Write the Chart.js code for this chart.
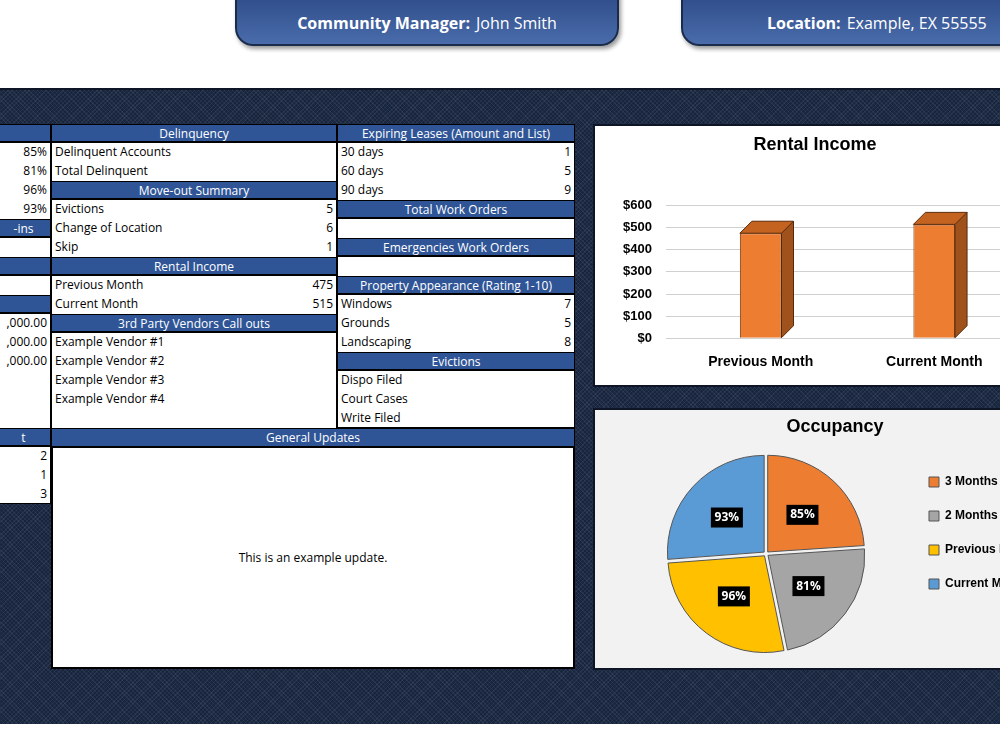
<!DOCTYPE html>
<html>
<head>
<meta charset="utf-8">
<script src="https://cdn.jsdelivr.net/npm/chart.js@4"></script>
<style>
  body { margin: 0; width: 1000px; height: 750px; overflow: hidden; background: #fff; font-family: "Open Sans", "Liberation Sans", sans-serif; position: relative; }
  .hdr { position: absolute; top: -10px; height: 56px; border: 2px solid #1b2b4a; border-radius: 0 0 18px 18px;
         background: linear-gradient(#2c4a86, #4a6cab); color: #fff; font-size: 16px; box-shadow: 2px 3px 4px rgba(0,0,0,0.4);
         display: flex; align-items: center; justify-content: center; padding-top: 10px; box-sizing: border-box; }
  .hdr b { margin-right: 6px; }
  #panel { position: absolute; left: 0; top: 88px; width: 1000px; height: 634px; background-color: #17243d;
           background-image: repeating-linear-gradient(45deg, rgba(255,255,255,0.06) 0 1px, transparent 1px 3px),
                             repeating-linear-gradient(-45deg, rgba(255,255,255,0.06) 0 1px, transparent 1px 3px);
           border-top: 2px solid #0d1526; }
  .col { position: absolute; top: 124px; font-size: 12px; color: #000; }
  .row { height: 19px; line-height: 18px; box-sizing: border-box; background: #fff; border-left: 1px solid #000; border-right: 1px solid #000;
         display: flex; justify-content: space-between; padding: 0 3px; white-space: nowrap; overflow: hidden; }
  .row.h { background: #2f5597; color: #fff; justify-content: center; border: 1px solid #000; border-bottom: 2px solid #000; }
  .row.last { border-bottom: 1px solid #000; }
  .box { position: absolute; background: #fff; border: 2px solid #000; box-sizing: border-box; }
</style>
</head>
<body>
<div class="hdr" style="left:235px; width:384px;"><b>Community Manager:</b> John Smith</div>
<div class="hdr" style="left:681px; width:360px; justify-content:flex-start; padding-left:84px;"><b>Location:</b> Example, EX 55555</div>
<div id="panel"></div>

<div class="col" id="c0" style="left:-4px; width:55px;"></div>
<div class="col" id="c1" style="left:51px; width:286px;"></div>
<div class="col" id="c2" style="left:337px; width:238px;"></div>
<div class="box" style="left:51px; top:446px; width:524px; height:223px; display:flex; align-items:center; justify-content:center; font-size:12px;">This is an example update.</div>

<div class="box" style="left:593px; top:124px; width:504px; height:263px; border-color:#0d1526;">
  <canvas id="barChart" width="500" height="259"></canvas>
</div>
<div class="box" style="left:593px; top:408px; width:504px; height:262px; background:#f2f2f2; border-color:#0d1526;">
  <canvas id="pieChart" width="500" height="258"></canvas>
</div>

<script>
// ---- table contents ----
const col0Rows = [['h',''],['','85%'],['','81%'],['','96%'],['','93%'],['h','-ins'],['',''],['h',''],['',''],['h',''],
  ['',',000.00'],['',',000.00'],['',',000.00'],['',''],['',''],['',''],['h','t'],['','2'],['','1'],['','3']];
const col1Rows = [['h','Delinquency'],['Delinquent Accounts',''],['Total Delinquent',''],['h','Move-out Summary'],
  ['Evictions','5'],['Change of Location','6'],['Skip','1'],['h','Rental Income'],['Previous Month','475'],['Current Month','515'],
  ['h','3rd Party Vendors Call outs'],['Example Vendor #1',''],['Example Vendor #2',''],['Example Vendor #3',''],['Example Vendor #4',''],['',''],
  ['h','General Updates']];
const col2Rows = [['h','Expiring Leases (Amount and List)'],['30 days','1'],['60 days','5'],['90 days','9'],['h','Total Work Orders'],['',''],
  ['h','Emergencies Work Orders'],['',''],['h','Property Appearance (Rating 1-10)'],['Windows','7'],['Grounds','5'],['Landscaping','8'],
  ['h','Evictions'],['Dispo Filed',''],['Court Cases',''],['Write Filed','']];

function buildCol(id, rows) {
  const el = document.getElementById(id);
  rows.forEach((r, i) => {
    const d = document.createElement('div');
    d.className = 'row' + (r[0] === 'h' ? ' h' : '') + (i === rows.length - 1 ? ' last' : '');
    if (r[0] === 'h') d.textContent = r[1];
    else d.innerHTML = '<span>' + r[0] + '</span><span>' + r[1] + '</span>';
    el.appendChild(d);
  });
}
buildCol('c0', col0Rows);
buildCol('c1', col1Rows);
buildCol('c2', col2Rows);
document.getElementById('c1').lastChild.style.width = '524px';

// ---- chart data ----
const incomeLabels = ['Previous Month', 'Current Month'];
const incomeValues = [475, 515];
const occupancyLabels = ['3 Months Ago', '2 Months Ago', 'Previous Month', 'Current Month'];
const occupancyValues = [85, 81, 96, 93];
const occupancyColors = ['#ed7d31', '#a5a5a5', '#ffc000', '#5b9bd5'];

// fake 3D faces for the bars
const bar3d = {
  id: 'bar3d',
  afterDatasetsDraw(chart) {
    const ctx = chart.ctx, d = 12;
    ctx.strokeStyle = '#5a2a08';
    chart.getDatasetMeta(0).data.forEach(b => {
      const l = b.x - b.width / 2, r = b.x + b.width / 2;
      ctx.fillStyle = '#a0521d';
      ctx.beginPath(); ctx.moveTo(r, b.y); ctx.lineTo(r + d, b.y - d); ctx.lineTo(r + d, b.base - d); ctx.lineTo(r, b.base); ctx.closePath(); ctx.fill(); ctx.stroke();
      ctx.fillStyle = '#c4621f';
      ctx.beginPath(); ctx.moveTo(l, b.y); ctx.lineTo(l + d, b.y - d); ctx.lineTo(r + d, b.y - d); ctx.lineTo(r, b.y); ctx.closePath(); ctx.fill(); ctx.stroke();
    });
  }
};

new Chart(document.getElementById('barChart'), {
  type: 'bar',
  data: { labels: incomeLabels, datasets: [{ data: incomeValues, backgroundColor: '#ed7d31', borderColor: '#7a3a10', borderWidth: 1, barPercentage: 0.24, categoryPercentage: 1 }] },
  plugins: [bar3d],
  options: {
    responsive: false, animation: false,
    layout: { padding: { left: 14, right: 74, top: 4, bottom: 6 } },
    plugins: {
      legend: { display: false }, tooltip: { enabled: false },
      title: { display: true, text: 'Rental Income', color: '#000', font: { size: 18, weight: 'bold' }, padding: { top: 4, bottom: 50 } }
    },
    scales: {
      x: { grid: { display: false }, border: { display: false }, ticks: { color: '#000', padding: 8, font: { size: 14, weight: 'bold' } } },
      y: { min: 0, max: 600, ticks: { stepSize: 100, color: '#000', padding: 14, font: { size: 13, weight: 'bold' }, callback: v => '$' + v },
           grid: { color: '#d0d0d0' }, border: { display: false } }
    }
  }
});

// black value boxes on the pie
const pieLabels = {
  id: 'pieLabels',
  afterDatasetsDraw(chart) {
    const ctx = chart.ctx;
    ctx.font = 'bold 12px "Open Sans", sans-serif';
    ctx.textAlign = 'center'; ctx.textBaseline = 'middle';
    chart.getDatasetMeta(0).data.forEach((arc, i) => {
      const p = arc.tooltipPosition();
      ctx.fillStyle = '#000'; ctx.fillRect(p.x - 16, p.y - 10, 32, 20);
      ctx.fillStyle = '#fff'; ctx.fillText(occupancyValues[i] + '%', p.x, p.y);
    });
  }
};

new Chart(document.getElementById('pieChart'), {
  type: 'pie',
  data: { labels: occupancyLabels, datasets: [{ data: occupancyValues, backgroundColor: occupancyColors, borderColor: '#555', borderWidth: 1, offset: 10 }] },
  plugins: [pieLabels],
  options: {
    responsive: false, animation: false,
    layout: { padding: { left: 30, right: 50, bottom: 12 } },
    plugins: {
      tooltip: { enabled: false },
      title: { display: true, text: 'Occupancy', color: '#000', font: { size: 18, weight: 'bold' }, padding: { top: 6, bottom: 14 } },
      legend: { position: 'right', labels: { color: '#000', boxWidth: 10, boxHeight: 10, padding: 22, font: { size: 12, weight: 'bold' } } }
    }
  }
});
</script>
</body>
</html>
